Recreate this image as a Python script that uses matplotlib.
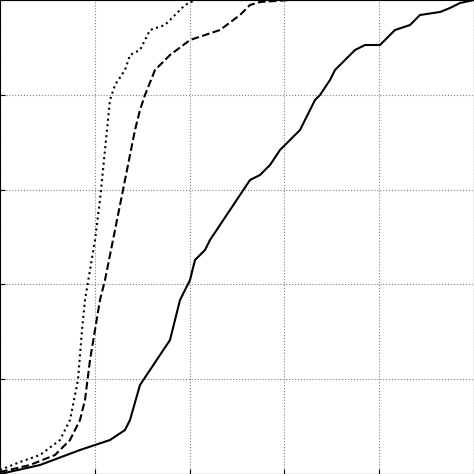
import matplotlib
matplotlib.use("Agg")
import matplotlib.pyplot as plt
import numpy as np

W = 474.0
def cv(pts):
    a = np.array(pts, float)
    return a[:, 0] / W * 5, 1 - a[:, 1] / W

dotted_pts = [(0,470),(20,462),(40,455),(60,440),(70,420),(78,380),(82,330),(85,300),(90,270),(95,240),(100,200),(105,150),(110,100),(115,85),(125,70),(130,55),(140,50),(150,30),(165,25),(175,15),(185,5),(195,0),(250,0)]
dashed_pts = [(0,472),(30,465),(55,455),(70,440),(80,420),(85,400),(90,360),(95,330),(100,300),(105,280),(110,255),(115,230),(120,205),(125,180),(130,155),(135,130),(140,110),(145,95),(155,70),(170,55),(190,40),(205,35),(220,30),(240,15),(250,5),(260,2),(290,0)]
solid_pts = [(0,474),(40,465),(80,450),(110,440),(125,430),(130,420),(140,385),(150,370),(160,355),(170,340),(175,320),(180,300),(190,280),(195,260),(205,250),(210,240),(220,225),(230,210),(240,195),(250,180),(260,175),(270,165),(280,150),(290,140),(300,130),(305,120),(315,100),(320,95),(330,80),(335,70),(345,60),(355,50),(365,45),(380,45),(390,35),(395,30),(410,25),(420,15),(440,12),(450,8),(460,3),(474,0)]

fig = plt.figure(figsize=(4.74, 4.74), dpi=100)
ax = fig.add_axes([0, 0, 1, 1])
for pts, ls in [(dotted_pts, ":"), (dashed_pts, "--"), (solid_pts, "-")]:
    x, y = cv(pts)
    ax.plot(x, y, color="black", ls=ls, lw=1.5)
ax.set_xlim(0, 5)
ax.set_ylim(0, 1)
ax.set_xticks(np.arange(0, 5.1, 1))
ax.set_yticks(np.arange(0, 1.01, 0.2))
ax.grid(True, ls=":", color="gray", lw=0.8)
ax.tick_params(direction="in", labelbottom=False, labelleft=False)
fig.savefig("out.png", dpi=100)
